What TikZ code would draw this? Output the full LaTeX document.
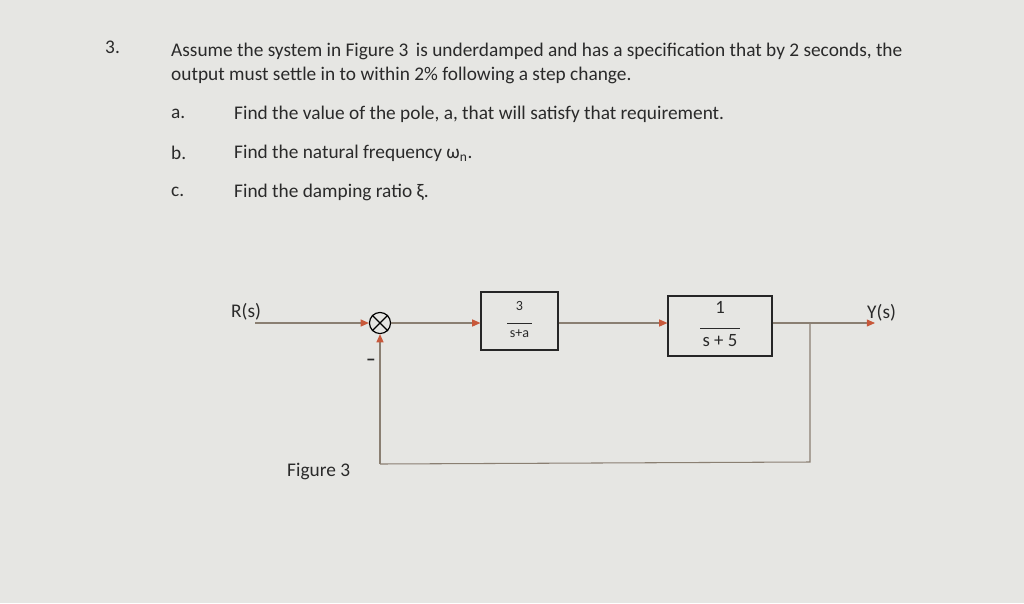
\documentclass[tikz,border=0pt]{standalone}
\usepackage{fontspec}
\setmainfont{Carlito}
\usetikzlibrary{arrows.meta}
\definecolor{bg}{HTML}{E6E6E3}
\definecolor{ln}{HTML}{8A7F72}
\definecolor{tip}{HTML}{C8583A}
\definecolor{tx}{HTML}{2A2A2A}
\begin{document}
\begin{tikzpicture}[x=0.03cm,y=-0.03cm,
  txt/.style={anchor=west,text=tx,font=\fontsize{16.5}{20}\selectfont,inner sep=0},
  blk/.style={draw=black!85,line width=1pt,fill=none},
  wire/.style={draw=ln,line width=0.9pt},
  arr/.style={wire,-{Triangle[length=7pt,width=6pt,fill=tip,color=tip]}}]
\fill[bg] (0,0) rectangle (1024,603);
\useasboundingbox (0,0) rectangle (1024,603);
\node[txt] (n3) at (105,47) {3.};
\node[txt] (l1) at (171,51) {Assume the system in Figure 3\, is underdamped and has a specification that by 2 seconds, the};
\node[txt] (l2) at (171,75) {output must settle in to within 2\% following a step change.};
\node[txt] (la) at (171,114) {a.};
\node[txt] (ta) at (234,114) {Find the value of the pole, a, that will satisfy that requirement.};
\node[txt] (lb) at (171,153) {b.};
\node[txt] (tb) at (234,153) {Find the natural frequency ω\textsubscript{n}.};
\node[txt] (lc) at (171,192) {c.};
\node[txt] (tc) at (234,192) {Find the damping ratio ξ.};
% diagram
\node[txt] (R) at (231,312) {R(s)};
\coordinate (rin) at (255,323);
\node[draw=black,line width=1pt,circle,minimum size=18pt,inner sep=0] (sum) at (380,323) {};
\draw[line width=1pt] (sum.north west)--(sum.south east) (sum.north east)--(sum.south west);
\node[blk,inner sep=0,minimum width=2.31cm,minimum height=1.74cm,text=tx] (b1) at (519.5,321)
  {\fontsize{12}{14}\selectfont\begin{tabular}{@{}c@{}}3\\[-3pt]\rule{0.75cm}{0.5pt}\\[-2pt]s+a\end{tabular}};
\node[blk,inner sep=0,minimum width=3.12cm,minimum height=1.8cm,text=tx] (b2) at (720,326)
  {\fontsize{16}{18}\selectfont\begin{tabular}{@{}c@{}}1\\[-5pt]\rule{1.2cm}{0.5pt}\\[-3pt]s + 5\end{tabular}};
\node[txt] (Y) at (867,313) {Y(s)};
\coordinate (yout) at (875,323);
\coordinate (fb1) at (810,323);
\coordinate (fb2) at (810,462);
\coordinate (fb3) at (380,464);
\draw[arr] (rin) -- (sum.west);
\draw[arr] (sum.east) -- (sum.east -| b1.west);
\draw[arr] (b1.east |- sum) -- (b2.west |- sum);
\draw[arr] (b2.east |- sum) -- (yout);
\draw[wire] (fb1) -- (fb2) -- (fb3);
\draw[arr] (fb3) -- (sum.south);
\node[txt] (minus) at (366,362) {\textbf{–}};
\node[txt] (fig) at (287,472) {Figure 3};
\end{tikzpicture}
\end{document}
